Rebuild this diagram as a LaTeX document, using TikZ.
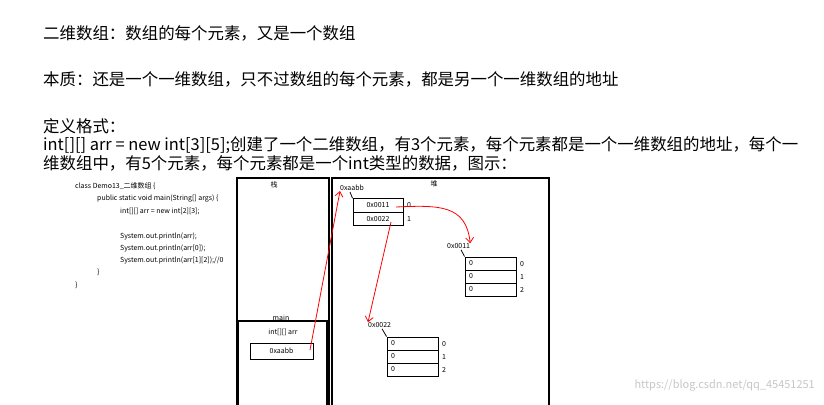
\documentclass[tikz,border=0pt]{standalone}
\usepackage{fontspec}
\setmainfont{Noto Sans CJK SC}
\usetikzlibrary{arrows.meta}
\begin{document}
\begin{tikzpicture}[x=1bp,y=-1bp,
  big/.style={anchor=west,inner sep=0,font=\fontsize{16.5}{18}\selectfont},
  sm/.style={inner sep=0,font=\fontsize{7}{8}\selectfont},
  code/.style={sm,anchor=west},
  frame/.style={draw,line width=1.2pt},
  cell/.style={draw,line width=0.9pt},
  ref/.style={red,line width=0.8pt,-{Straight Barb[length=5bp,width=8bp]}},
  tick/.style={line width=0.8pt}]
\useasboundingbox (0,0) rectangle (824,404);
\node[big] (l1) at (43,33) {二维数组：数组的每个元素，又是一个数组};
\node[big] (l2) at (43,79) {本质：还是一个一维数组，只不过数组的每个元素，都是另一个一维数组的地址};
\node[big] (l3) at (43,126) {定义格式：};
\node[big] (l4) at (43,145) {int[][] arr = new int[3][5];创建了一个二维数组，有3个元素，每个元素都是一个一维数组的地址，每个一};
\node[big] (l5) at (43,163) {维数组中，有5个元素，每个元素都是一个int类型的数据，图示：};
% code
\node[code] (c1) at (75,186) {class Demo13\_二维数组 \{};
\node[code] (c2) at (97,199) {public static void main(String[] args) \{};
\node[code] (c3) at (120,211) {int[][] arr = new int[2][3];};
\node[code] (c4) at (120,236) {System.out.println(arr);};
\node[code] (c5) at (120,248) {System.out.println(arr[0]);};
\node[code] (c6) at (120,260) {System.out.println(arr[1][2]);//0};
\node[code] (c7) at (97,272) {\}};
\node[code] (c8) at (75,285) {\}};
% stack
\draw[frame] (237,405) -- (237,178) -- (329,178) -- (329,405);
\node[sm] (zhan) at (274,185) {栈};
\draw[frame] (238,405) -- (238,321) -- (327,321) -- (327,405);
\node[sm] (mainl) at (281,318) {main};
\node[sm] (arrl) at (283,332) {int[][] arr};
\node[cell,minimum width=63bp,minimum height=16bp,sm,draw] (ab) at (281.5,351) {0xaabb};
% heap
\draw[frame] (332,405) -- (332,178) -- (549,178) -- (549,405);
\node[sm] (dui) at (434,184) {堆};
\node[sm,anchor=west] (hab) at (340,188) {0xaabb};
\node[cell,sm,minimum width=50bp,minimum height=13.5bp] (r0) at (378,205.5) {0x0011};
\node[cell,sm,minimum width=50bp,minimum height=13.5bp] (r1) at (378,219) {0x0022};
\node[sm] (i0) at (409,205) {0};
\node[sm] (i1) at (409,219) {1};
\draw[tick] (hab.south west)++(10,1) coordinate (t1) -- (r0.north west);
% array 0x0011
\node[sm,anchor=west] (h11) at (447,246) {0x0011};
\foreach \i in {0,1,2}{
  \node[cell,sm,minimum width=51bp,minimum height=13bp,text width=43bp,align=left] (a\i) at (490.5,263.5+13*\i) {0};
  \node[sm] (ai\i) at (522,264+13*\i) {\i};}
\draw[tick] (h11.south west)++(14,1) -- (a0.north west);
% array 0x0022
\node[sm,anchor=west] (h22) at (368,325) {0x0022};
\foreach \i in {0,1,2}{
  \node[cell,sm,minimum width=51bp,minimum height=13bp,text width=43bp,align=left] (b\i) at (412.5,343.5+13*\i) {0};
  \node[sm] (bi\i) at (444,344+13*\i) {\i};}
\draw[tick] (h22.south west)++(14,1) -- (b0.north west);
% references
\coordinate (s1) at (310,350);
\draw[ref] (s1) -- (hab.south west);
\coordinate (s2) at (396,207);
\draw[ref] (s2) .. controls (440,205) and (466,205) .. (h11.north east);
\coordinate (s3) at (391,222);
\draw[ref] (s3) -- (h22.north west);
\node[anchor=east,inner sep=0,text=gray!45,font=\fontsize{11}{12}\selectfont] (wm) at (815,385) {https://blog.csdn.net/qq\_45451251};
\end{tikzpicture}
\end{document}
